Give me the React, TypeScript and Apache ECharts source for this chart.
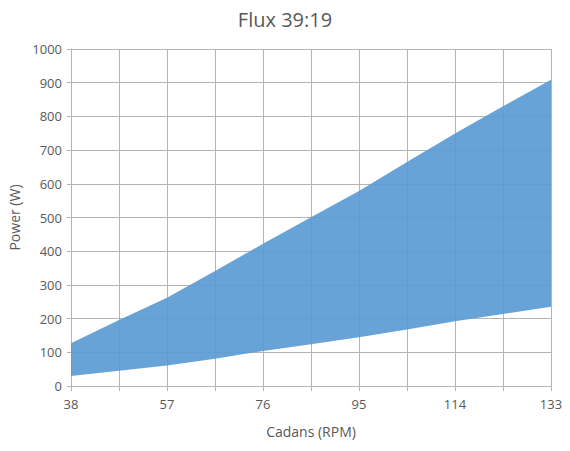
import React, { useEffect, useRef } from 'react';
import * as echarts from 'echarts';

// cadence (RPM), one point per grid column
const cadence = ['38', '47.5', '57', '66.5', '76', '85.5', '95', '104.5', '114', '123.5', '133'];
// power band edges (W)
const lowerPower = [30, 45, 61, 81, 104, 124, 145, 168, 192, 214, 235];
const upperPower = [127, 196, 262, 341, 422, 501, 579, 665, 749, 830, 909];

const FONT = '"Open Sans", sans-serif';
const TEXT = '#595959';
const GRID = '#b4b4b4';

const App: React.FC = () => {
  const chartRef = useRef<HTMLDivElement>(null);

  useEffect(() => {
    document.body.style.margin = '0';
    if (!chartRef.current) return;
    const chart = echarts.init(chartRef.current, undefined, { renderer: 'svg' });

    chart.setOption({
      animation: false,
      title: {
        text: 'Flux 39:19',
        left: 'center',
        top: 4,
        textStyle: { fontFamily: FONT, fontSize: 20, fontWeight: 'normal', color: TEXT }
      },
      grid: { left: 71, right: 19, top: 49, bottom: 65, outerBoundsMode: 'none' },
      xAxis: {
        type: 'category',
        boundaryGap: false,
        data: cadence,
        name: 'Cadans (RPM)',
        nameLocation: 'middle',
        nameGap: 38,
        nameTextStyle: { fontFamily: FONT, fontSize: 14, color: TEXT },
        axisLine: { show: true, lineStyle: { color: GRID } },
        axisTick: { show: true, interval: 0, length: 5, lineStyle: { color: GRID } },
        axisLabel: { interval: 1, fontFamily: FONT, fontSize: 13, color: TEXT, margin: 11 },
        splitLine: { show: true, interval: 0, lineStyle: { color: GRID, width: 1 } }
      },
      yAxis: {
        type: 'value',
        min: 0,
        max: 1000,
        interval: 100,
        name: 'Power (W)',
        nameLocation: 'middle',
        nameGap: 50,
        nameRotate: 90,
        nameTextStyle: { fontFamily: FONT, fontSize: 14, color: TEXT },
        axisLine: { show: true, lineStyle: { color: GRID } },
        axisTick: { show: true, length: 4, lineStyle: { color: GRID } },
        axisLabel: {
          fontFamily: FONT,
          fontSize: 13,
          color: TEXT,
          margin: 9,
          formatter: (v: number) => String(v)
        },
        splitLine: { show: true, lineStyle: { color: GRID, width: 1 } }
      },
      series: [
        {
          name: 'lower',
          type: 'line',
          stack: 'band',
          symbol: 'none',
          lineStyle: { width: 0 },
          areaStyle: { opacity: 0 },
          data: lowerPower
        },
        {
          name: 'band',
          type: 'line',
          stack: 'band',
          symbol: 'none',
          lineStyle: { width: 0 },
          areaStyle: { color: '#5b9bd5', opacity: 0.92 },
          data: upperPower.map((u, i) => u - lowerPower[i])
        }
      ]
    });

    return () => {
      chart.dispose();
    };
  }, []);

  return <div ref={chartRef} style={{ width: 570, height: 451 }} />;
};

export default App;
